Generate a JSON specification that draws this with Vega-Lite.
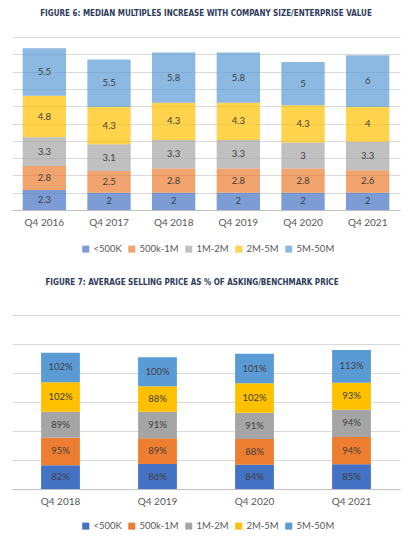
{
  "$schema": "https://vega.github.io/schema/vega-lite/v6.json",
  "background": "white",
  "padding": {"left": 12, "right": 12, "top": 10, "bottom": 4},
  "datasets": {
    "multiples": [
      {"period": "Q4 2016", "size": "<500K", "value": 2.3},
      {"period": "Q4 2016", "size": "500k-1M", "value": 2.8},
      {"period": "Q4 2016", "size": "1M-2M", "value": 3.3},
      {"period": "Q4 2016", "size": "2M-5M", "value": 4.8},
      {"period": "Q4 2016", "size": "5M-50M", "value": 5.5},
      {"period": "Q4 2017", "size": "<500K", "value": 2},
      {"period": "Q4 2017", "size": "500k-1M", "value": 2.5},
      {"period": "Q4 2017", "size": "1M-2M", "value": 3.1},
      {"period": "Q4 2017", "size": "2M-5M", "value": 4.3},
      {"period": "Q4 2017", "size": "5M-50M", "value": 5.5},
      {"period": "Q4 2018", "size": "<500K", "value": 2},
      {"period": "Q4 2018", "size": "500k-1M", "value": 2.8},
      {"period": "Q4 2018", "size": "1M-2M", "value": 3.3},
      {"period": "Q4 2018", "size": "2M-5M", "value": 4.3},
      {"period": "Q4 2018", "size": "5M-50M", "value": 5.8},
      {"period": "Q4 2019", "size": "<500K", "value": 2},
      {"period": "Q4 2019", "size": "500k-1M", "value": 2.8},
      {"period": "Q4 2019", "size": "1M-2M", "value": 3.3},
      {"period": "Q4 2019", "size": "2M-5M", "value": 4.3},
      {"period": "Q4 2019", "size": "5M-50M", "value": 5.8},
      {"period": "Q4 2020", "size": "<500K", "value": 2},
      {"period": "Q4 2020", "size": "500k-1M", "value": 2.8},
      {"period": "Q4 2020", "size": "1M-2M", "value": 3},
      {"period": "Q4 2020", "size": "2M-5M", "value": 4.3},
      {"period": "Q4 2020", "size": "5M-50M", "value": 5},
      {"period": "Q4 2021", "size": "<500K", "value": 2},
      {"period": "Q4 2021", "size": "500k-1M", "value": 2.6},
      {"period": "Q4 2021", "size": "1M-2M", "value": 3.3},
      {"period": "Q4 2021", "size": "2M-5M", "value": 4},
      {"period": "Q4 2021", "size": "5M-50M", "value": 6}
    ],
    "price": [
      {"period": "Q4 2018", "size": "<500K", "value": 82},
      {"period": "Q4 2018", "size": "500k-1M", "value": 95},
      {"period": "Q4 2018", "size": "1M-2M", "value": 89},
      {"period": "Q4 2018", "size": "2M-5M", "value": 102},
      {"period": "Q4 2018", "size": "5M-50M", "value": 102},
      {"period": "Q4 2019", "size": "<500K", "value": 86},
      {"period": "Q4 2019", "size": "500k-1M", "value": 89},
      {"period": "Q4 2019", "size": "1M-2M", "value": 91},
      {"period": "Q4 2019", "size": "2M-5M", "value": 88},
      {"period": "Q4 2019", "size": "5M-50M", "value": 100},
      {"period": "Q4 2020", "size": "<500K", "value": 84},
      {"period": "Q4 2020", "size": "500k-1M", "value": 88},
      {"period": "Q4 2020", "size": "1M-2M", "value": 91},
      {"period": "Q4 2020", "size": "2M-5M", "value": 102},
      {"period": "Q4 2020", "size": "5M-50M", "value": 101},
      {"period": "Q4 2021", "size": "<500K", "value": 85},
      {"period": "Q4 2021", "size": "500k-1M", "value": 94},
      {"period": "Q4 2021", "size": "1M-2M", "value": 94},
      {"period": "Q4 2021", "size": "2M-5M", "value": 93},
      {"period": "Q4 2021", "size": "5M-50M", "value": 113}
    ]
  },
  "config": {
    "font": "Lato",
    "view": {"stroke": null},
    "title": {
      "font": "Liberation Sans Narrow, DejaVu Sans Condensed, sans-serif",
      "fontWeight": "bold",
      "fontSize": 8,
      "color": "#2e3a59",
      "anchor": "middle"
    },
    "axisX": {
      "title": null,
      "ticks": false,
      "tickSize": 0,
      "labelPadding": 7,
      "labelFontSize": 10,
      "labelColor": "#595959",
      "labelAngle": 0,
      "domainColor": "#bfbfbf",
      "grid": false
    },
    "axisY": {
      "title": null,
      "labels": false,
      "ticks": false,
      "domain": false,
      "grid": true,
      "gridColor": "#d9d9d9",
      "gridWidth": 1
    },
    "legend": {
      "orient": "none",
      "direction": "horizontal",
      "title": null,
      "symbolType": "square",
      "symbolSize": 49,
      "symbolStrokeWidth": 0,
      "labelFontSize": 9.5,
      "labelColor": "#595959",
      "columnPadding": 5,
      "labelOffset": 3
    },
    "text": {"fontSize": 9.5, "color": "#404040"}
  },
  "resolve": {
    "scale": {"x": "independent", "y": "independent", "color": "independent"},
    "legend": {"color": "independent"}
  },
  "spacing": 25,
  "vconcat": [
    {
      "title": {"text": "FIGURE 6: MEDIAN MULTIPLES INCREASE WITH COMPANY SIZE/ENTERPRISE VALUE", "offset": 19},
      "width": 388,
      "height": 173,
      "data": {"name": "multiples"},
      "transform": [
        {"calculate": "indexof(['<500K','500k-1M','1M-2M','2M-5M','5M-50M'], datum.size)", "as": "ord"},
        {"stack": "value", "groupby": ["period"], "sort": [{"field": "ord", "order": "ascending"}], "as": ["lo", "hi"]},
        {"calculate": "(datum.lo + datum.hi) / 2", "as": "mid"}
      ],
      "encoding": {
        "x": {
          "field": "period",
          "type": "nominal",
          "sort": null,
          "scale": {"paddingInner": 0.33, "paddingOuter": 0.165}
        }
      },
      "layer": [
        {
          "mark": {"type": "bar", "opacity": 0.7},
          "encoding": {
            "y": {"field": "lo", "type": "quantitative", "scale": {"domain": [0, 20], "nice": false}, "axis": {"values": [0, 2, 4, 6, 8, 10, 12, 14, 16, 18, 20]}},
            "y2": {"field": "hi"},
            "color": {
              "field": "size",
              "type": "nominal",
              "sort": ["<500K", "500k-1M", "1M-2M", "2M-5M", "5M-50M"],
              "scale": {"domain": ["<500K", "500k-1M", "1M-2M", "2M-5M", "5M-50M"], "range": ["#4472c4", "#ed7d31", "#a5a5a5", "#ffc000", "#5b9bd5"]},
              "legend": {"legendX": 69, "legendY": 207, "symbolOpacity": 0.7}
            }
          }
        },
        {
          "mark": {"type": "text"},
          "encoding": {
            "y": {"field": "mid", "type": "quantitative", "axis": {"values": [0, 2, 4, 6, 8, 10, 12, 14, 16, 18, 20]}},
            "text": {"field": "value", "type": "quantitative"}
          }
        }
      ]
    },
    {
      "title": {"text": "FIGURE 7: AVERAGE SELLING PRICE AS % OF ASKING/BENCHMARK PRICE", "offset": 28, "dx": -14},
      "width": 388,
      "height": 174,
      "data": {"name": "price"},
      "transform": [
        {"calculate": "indexof(['<500K','500k-1M','1M-2M','2M-5M','5M-50M'], datum.size)", "as": "ord"},
        {"stack": "value", "groupby": ["period"], "sort": [{"field": "ord", "order": "ascending"}], "as": ["lo", "hi"]},
        {"calculate": "(datum.lo + datum.hi) / 2", "as": "mid"},
        {"calculate": "datum.value + '%'", "as": "label"}
      ],
      "encoding": {
        "x": {
          "field": "period",
          "type": "nominal",
          "sort": null,
          "scale": {"paddingInner": 0.6, "paddingOuter": 0.3}
        }
      },
      "layer": [
        {
          "mark": {"type": "bar"},
          "encoding": {
            "y": {"field": "lo", "type": "quantitative", "scale": {"domain": [0, 600], "nice": false}, "axis": {"values": [0, 100, 200, 300, 400, 500, 600]}},
            "y2": {"field": "hi"},
            "color": {
              "field": "size",
              "type": "nominal",
              "sort": ["<500K", "500k-1M", "1M-2M", "2M-5M", "5M-50M"],
              "scale": {"domain": ["<500K", "500k-1M", "1M-2M", "2M-5M", "5M-50M"], "range": ["#4472c4", "#ed7d31", "#a5a5a5", "#ffc000", "#5b9bd5"]},
              "legend": {"legendX": 69, "legendY": 206}
            }
          }
        },
        {
          "mark": {"type": "text"},
          "encoding": {
            "y": {"field": "mid", "type": "quantitative", "axis": {"values": [0, 100, 200, 300, 400, 500, 600]}},
            "text": {"field": "label", "type": "nominal"}
          }
        }
      ]
    }
  ]
}
